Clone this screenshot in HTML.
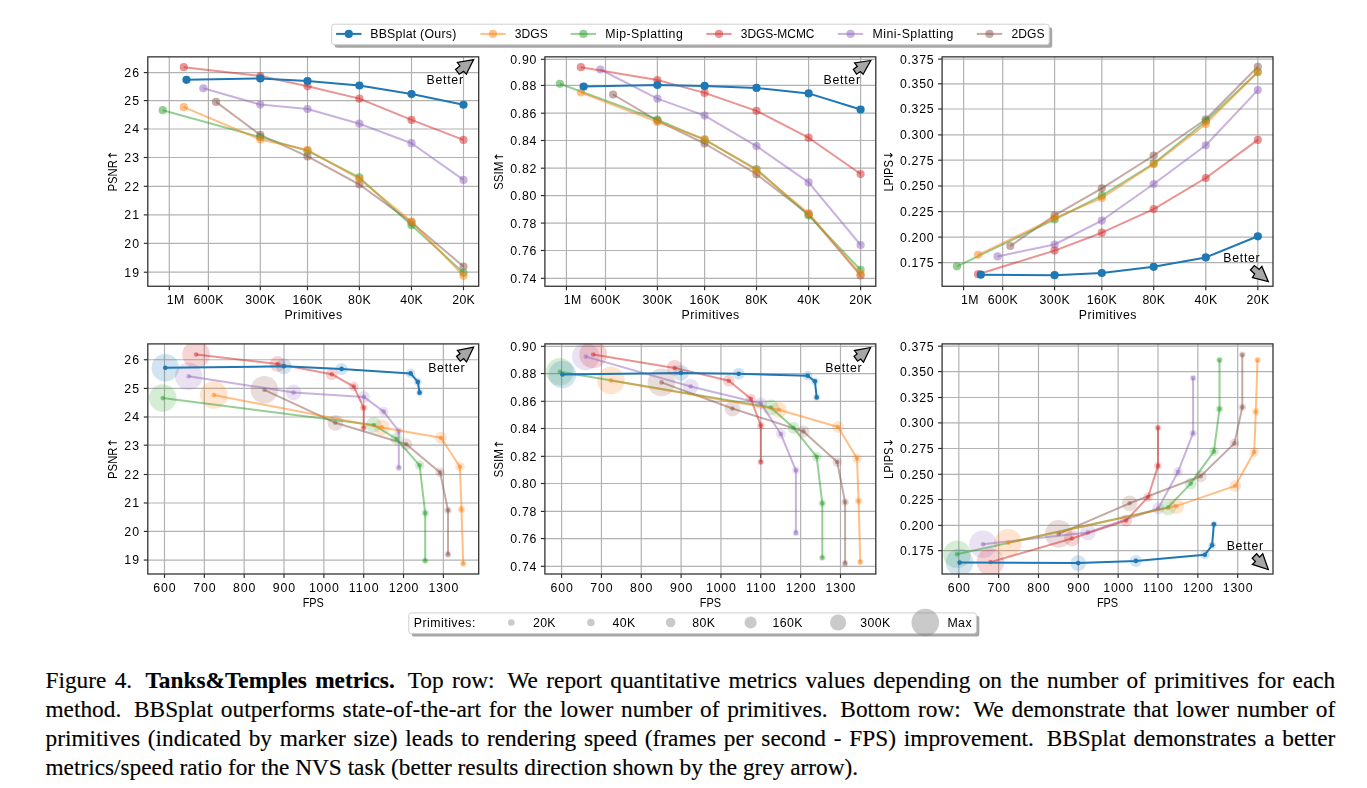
<!DOCTYPE html>
<html lang="en">
<head>
<meta charset="utf-8">
<title>Figure 4 - Tanks&amp;Temples metrics</title>
<style>
html,body{margin:0;padding:0;background:#fff;}
body{width:1367px;height:788px;position:relative;overflow:hidden;font-family:"Liberation Sans",sans-serif;}
svg{will-change:transform;}
svg text{font-family:"Liberation Sans",sans-serif;}
#cap{position:absolute;left:45.5px;top:665.8px;width:1289.8px;-webkit-text-stroke:0.15px #000;font-family:"Liberation Serif",serif;font-size:23.3px;line-height:29px;color:#000;}
#cap .l{height:29px;white-space:nowrap;text-align:justify;text-align-last:justify;overflow:visible;white-space:normal;}
#cap .l.last{text-align:left;text-align-last:left;}
#cap i.s{display:inline-block;width:5px;}
</style>
</head>
<body>
<svg width="1367" height="650" viewBox="0 0 1367 650" font-family='"Liberation Sans", sans-serif' style="position:absolute;left:0;top:0">
<g stroke="#b2b2b2" stroke-width="1.2" fill="none">
<path d="M169.3 56.85V286.25"/>
<path d="M208.4 56.85V286.25"/>
<path d="M260.3 56.85V286.25"/>
<path d="M307.5 56.85V286.25"/>
<path d="M359.4 56.85V286.25"/>
<path d="M411.5 56.85V286.25"/>
<path d="M463.5 56.85V286.25"/>
<path d="M147.8 72.6H478.7"/>
<path d="M147.8 100.6H478.7"/>
<path d="M147.8 129H478.7"/>
<path d="M147.8 157.5H478.7"/>
<path d="M147.8 186.3H478.7"/>
<path d="M147.8 214.9H478.7"/>
<path d="M147.8 243.3H478.7"/>
<path d="M147.8 272.2H478.7"/>
</g>
<g opacity="1" fill="#8c564b" fill-opacity="0.5" stroke-opacity="0.5">
<polyline points="216,101.9 260.3,134.9 307.5,156.4 359.4,184.5 411.5,222.4 463.5,266.5" fill="none" stroke="#8c564b" stroke-width="2" stroke-linejoin="round"/>
<circle cx="216" cy="101.9" r="4.1"/>
<circle cx="260.3" cy="134.9" r="4.1"/>
<circle cx="307.5" cy="156.4" r="4.1"/>
<circle cx="359.4" cy="184.5" r="4.1"/>
<circle cx="411.5" cy="222.4" r="4.1"/>
<circle cx="463.5" cy="266.5" r="4.1"/>
</g>
<g opacity="1" fill="#9467bd" fill-opacity="0.5" stroke-opacity="0.5">
<polyline points="203.3,88.3 260.3,104.6 307.5,109 359.4,123.7 411.5,143.2 463.5,179.9" fill="none" stroke="#9467bd" stroke-width="2" stroke-linejoin="round"/>
<circle cx="203.3" cy="88.3" r="4.1"/>
<circle cx="260.3" cy="104.6" r="4.1"/>
<circle cx="307.5" cy="109" r="4.1"/>
<circle cx="359.4" cy="123.7" r="4.1"/>
<circle cx="411.5" cy="143.2" r="4.1"/>
<circle cx="463.5" cy="179.9" r="4.1"/>
</g>
<g opacity="1" fill="#d62728" fill-opacity="0.5" stroke-opacity="0.5">
<polyline points="183.8,67.15 260.3,76.1 307.5,86.3 359.4,98.65 411.5,119.9 463.5,139.9" fill="none" stroke="#d62728" stroke-width="2" stroke-linejoin="round"/>
<circle cx="183.8" cy="67.15" r="4.1"/>
<circle cx="260.3" cy="76.1" r="4.1"/>
<circle cx="307.5" cy="86.3" r="4.1"/>
<circle cx="359.4" cy="98.65" r="4.1"/>
<circle cx="411.5" cy="119.9" r="4.1"/>
<circle cx="463.5" cy="139.9" r="4.1"/>
</g>
<g opacity="1" fill="#2ca02c" fill-opacity="0.5" stroke-opacity="0.5">
<polyline points="162.7,110.2 260.3,137.1 307.5,150.9 359.4,177.4 411.5,225.2 463.5,272.8" fill="none" stroke="#2ca02c" stroke-width="2" stroke-linejoin="round"/>
<circle cx="162.7" cy="110.2" r="4.1"/>
<circle cx="260.3" cy="137.1" r="4.1"/>
<circle cx="307.5" cy="150.9" r="4.1"/>
<circle cx="359.4" cy="177.4" r="4.1"/>
<circle cx="411.5" cy="225.2" r="4.1"/>
<circle cx="463.5" cy="272.8" r="4.1"/>
</g>
<g opacity="1" fill="#ff7f0e" fill-opacity="0.5" stroke-opacity="0.5">
<polyline points="183.8,107.2 260.3,139.5 307.5,149.8 359.4,178.8 411.5,221.5 463.5,275.8" fill="none" stroke="#ff7f0e" stroke-width="2" stroke-linejoin="round"/>
<circle cx="183.8" cy="107.2" r="4.1"/>
<circle cx="260.3" cy="139.5" r="4.1"/>
<circle cx="307.5" cy="149.8" r="4.1"/>
<circle cx="359.4" cy="178.8" r="4.1"/>
<circle cx="411.5" cy="221.5" r="4.1"/>
<circle cx="463.5" cy="275.8" r="4.1"/>
</g>
<g opacity="1" fill="#1f77b4" fill-opacity="1.0" stroke-opacity="1.0">
<polyline points="186.5,79.85 260.3,78.4 307.5,81 359.4,85.5 411.5,94 463.5,104.75" fill="none" stroke="#1f77b4" stroke-width="2" stroke-linejoin="round"/>
<circle cx="186.5" cy="79.85" r="4.1"/>
<circle cx="260.3" cy="78.4" r="4.1"/>
<circle cx="307.5" cy="81" r="4.1"/>
<circle cx="359.4" cy="85.5" r="4.1"/>
<circle cx="411.5" cy="94" r="4.1"/>
<circle cx="463.5" cy="104.75" r="4.1"/>
</g>
<g stroke="#2a2a2a" stroke-width="1.15" fill="none">
<path d="M169.3 286.25v4"/>
<path d="M208.4 286.25v4"/>
<path d="M260.3 286.25v4"/>
<path d="M307.5 286.25v4"/>
<path d="M359.4 286.25v4"/>
<path d="M411.5 286.25v4"/>
<path d="M463.5 286.25v4"/>
<path d="M147.8 72.6h-4"/>
<path d="M147.8 100.6h-4"/>
<path d="M147.8 129h-4"/>
<path d="M147.8 157.5h-4"/>
<path d="M147.8 186.3h-4"/>
<path d="M147.8 214.9h-4"/>
<path d="M147.8 243.3h-4"/>
<path d="M147.8 272.2h-4"/>
</g>
<rect x="147.8" y="56.85" width="330.9" height="229.4" fill="none" stroke="#333" stroke-width="1.3"/>
<g font-size="12.3" fill="#000">
<g text-anchor="middle">
<text x="175.5" y="303.75" textLength="17.54">1M</text>
<text x="208.4" y="303.75" textLength="30">600K</text>
<text x="260.3" y="303.75" textLength="30">300K</text>
<text x="307.5" y="303.75" textLength="30">160K</text>
<text x="359.4" y="303.75" textLength="22.56">80K</text>
<text x="411.5" y="303.75" textLength="22.56">40K</text>
<text x="463.5" y="303.75" textLength="22.56">20K</text>
<text x="313.25" y="319.25" textLength="57.61">Primitives</text>
</g>
<g text-anchor="end">
<text x="139.2" y="77" textLength="14.89">26</text>
<text x="139.2" y="105" textLength="14.89">25</text>
<text x="139.2" y="133.4" textLength="14.89">24</text>
<text x="139.2" y="161.9" textLength="14.89">23</text>
<text x="139.2" y="190.7" textLength="14.89">22</text>
<text x="139.2" y="219.3" textLength="14.89">21</text>
<text x="139.2" y="247.7" textLength="14.89">20</text>
<text x="139.2" y="276.6" textLength="14.89">19</text>
</g>
<g transform="translate(116.8 170.95) rotate(-90)">
<text x="-20.58" y="0" textLength="31.36" lengthAdjust="spacingAndGlyphs">PSNR</text>
<path transform="translate(10.78 0) scale(0.005713 -0.005713)" d="M813 1500H903L1295 1106L1175 986L943 1220V0H773V1220L539 986L419 1106Z" fill="#000"/>
</g>
</g>
<g stroke="#b2b2b2" stroke-width="1.2" fill="none">
<path d="M566.4 56.85V286.25"/>
<path d="M605.5 56.85V286.25"/>
<path d="M657.4 56.85V286.25"/>
<path d="M704.6 56.85V286.25"/>
<path d="M756.5 56.85V286.25"/>
<path d="M808.6 56.85V286.25"/>
<path d="M860.6 56.85V286.25"/>
<path d="M544.9 59.3H875.8"/>
<path d="M544.9 85.45H875.8"/>
<path d="M544.9 113.2H875.8"/>
<path d="M544.9 140.5H875.8"/>
<path d="M544.9 168.2H875.8"/>
<path d="M544.9 195.6H875.8"/>
<path d="M544.9 223.1H875.8"/>
<path d="M544.9 250.5H875.8"/>
<path d="M544.9 278.35H875.8"/>
</g>
<g opacity="1" fill="#8c564b" fill-opacity="0.5" stroke-opacity="0.5">
<polyline points="613.1,94.5 657.4,120.6 704.6,143.5 756.5,174.2 808.6,214.2 860.6,275.5" fill="none" stroke="#8c564b" stroke-width="2" stroke-linejoin="round"/>
<circle cx="613.1" cy="94.5" r="4.1"/>
<circle cx="657.4" cy="120.6" r="4.1"/>
<circle cx="704.6" cy="143.5" r="4.1"/>
<circle cx="756.5" cy="174.2" r="4.1"/>
<circle cx="808.6" cy="214.2" r="4.1"/>
<circle cx="860.6" cy="275.5" r="4.1"/>
</g>
<g opacity="1" fill="#9467bd" fill-opacity="0.5" stroke-opacity="0.5">
<polyline points="600.4,69.5 657.4,98.65 704.6,115.6 756.5,146.1 808.6,182.4 860.6,245" fill="none" stroke="#9467bd" stroke-width="2" stroke-linejoin="round"/>
<circle cx="600.4" cy="69.5" r="4.1"/>
<circle cx="657.4" cy="98.65" r="4.1"/>
<circle cx="704.6" cy="115.6" r="4.1"/>
<circle cx="756.5" cy="146.1" r="4.1"/>
<circle cx="808.6" cy="182.4" r="4.1"/>
<circle cx="860.6" cy="245" r="4.1"/>
</g>
<g opacity="1" fill="#d62728" fill-opacity="0.5" stroke-opacity="0.5">
<polyline points="580.9,67.15 657.4,80 704.6,92.9 756.5,110.85 808.6,137.7 860.6,174.05" fill="none" stroke="#d62728" stroke-width="2" stroke-linejoin="round"/>
<circle cx="580.9" cy="67.15" r="4.1"/>
<circle cx="657.4" cy="80" r="4.1"/>
<circle cx="704.6" cy="92.9" r="4.1"/>
<circle cx="756.5" cy="110.85" r="4.1"/>
<circle cx="808.6" cy="137.7" r="4.1"/>
<circle cx="860.6" cy="174.05" r="4.1"/>
</g>
<g opacity="1" fill="#2ca02c" fill-opacity="0.5" stroke-opacity="0.5">
<polyline points="559.8,83.8 657.4,119.6 704.6,139.9 756.5,169 808.6,215.4 860.6,269.8" fill="none" stroke="#2ca02c" stroke-width="2" stroke-linejoin="round"/>
<circle cx="559.8" cy="83.8" r="4.1"/>
<circle cx="657.4" cy="119.6" r="4.1"/>
<circle cx="704.6" cy="139.9" r="4.1"/>
<circle cx="756.5" cy="169" r="4.1"/>
<circle cx="808.6" cy="215.4" r="4.1"/>
<circle cx="860.6" cy="269.8" r="4.1"/>
</g>
<g opacity="1" fill="#ff7f0e" fill-opacity="0.5" stroke-opacity="0.5">
<polyline points="580.9,92.5 657.4,121.9 704.6,139.05 756.5,170.4 808.6,213.2 860.6,274.2" fill="none" stroke="#ff7f0e" stroke-width="2" stroke-linejoin="round"/>
<circle cx="580.9" cy="92.5" r="4.1"/>
<circle cx="657.4" cy="121.9" r="4.1"/>
<circle cx="704.6" cy="139.05" r="4.1"/>
<circle cx="756.5" cy="170.4" r="4.1"/>
<circle cx="808.6" cy="213.2" r="4.1"/>
<circle cx="860.6" cy="274.2" r="4.1"/>
</g>
<g opacity="1" fill="#1f77b4" fill-opacity="1.0" stroke-opacity="1.0">
<polyline points="583.6,86.6 657.4,85 704.6,85.95 756.5,87.9 808.6,93.4 860.6,109.5" fill="none" stroke="#1f77b4" stroke-width="2" stroke-linejoin="round"/>
<circle cx="583.6" cy="86.6" r="4.1"/>
<circle cx="657.4" cy="85" r="4.1"/>
<circle cx="704.6" cy="85.95" r="4.1"/>
<circle cx="756.5" cy="87.9" r="4.1"/>
<circle cx="808.6" cy="93.4" r="4.1"/>
<circle cx="860.6" cy="109.5" r="4.1"/>
</g>
<g stroke="#2a2a2a" stroke-width="1.15" fill="none">
<path d="M566.4 286.25v4"/>
<path d="M605.5 286.25v4"/>
<path d="M657.4 286.25v4"/>
<path d="M704.6 286.25v4"/>
<path d="M756.5 286.25v4"/>
<path d="M808.6 286.25v4"/>
<path d="M860.6 286.25v4"/>
<path d="M544.9 59.3h-4"/>
<path d="M544.9 85.45h-4"/>
<path d="M544.9 113.2h-4"/>
<path d="M544.9 140.5h-4"/>
<path d="M544.9 168.2h-4"/>
<path d="M544.9 195.6h-4"/>
<path d="M544.9 223.1h-4"/>
<path d="M544.9 250.5h-4"/>
<path d="M544.9 278.35h-4"/>
</g>
<rect x="544.9" y="56.85" width="330.9" height="229.4" fill="none" stroke="#333" stroke-width="1.3"/>
<g font-size="12.3" fill="#000">
<g text-anchor="middle">
<text x="572.6" y="303.75" textLength="17.54">1M</text>
<text x="605.5" y="303.75" textLength="30">600K</text>
<text x="657.4" y="303.75" textLength="30">300K</text>
<text x="704.6" y="303.75" textLength="30">160K</text>
<text x="756.5" y="303.75" textLength="22.56">80K</text>
<text x="808.6" y="303.75" textLength="22.56">40K</text>
<text x="860.6" y="303.75" textLength="22.56">20K</text>
<text x="710.35" y="319.25" textLength="57.61">Primitives</text>
</g>
<g text-anchor="end">
<text x="536.3" y="63.7" textLength="26.05">0.90</text>
<text x="536.3" y="89.85" textLength="26.05">0.88</text>
<text x="536.3" y="117.6" textLength="26.05">0.86</text>
<text x="536.3" y="144.9" textLength="26.05">0.84</text>
<text x="536.3" y="172.6" textLength="26.05">0.82</text>
<text x="536.3" y="200" textLength="26.05">0.80</text>
<text x="536.3" y="227.5" textLength="26.05">0.78</text>
<text x="536.3" y="254.9" textLength="26.05">0.76</text>
<text x="536.3" y="282.75" textLength="26.05">0.74</text>
</g>
<g transform="translate(503.1 170.95) rotate(-90)">
<text x="-19.1" y="0" textLength="28.4" lengthAdjust="spacingAndGlyphs">SSIM</text>
<path transform="translate(9.3 0) scale(0.005713 -0.005713)" d="M813 1500H903L1295 1106L1175 986L943 1220V0H773V1220L539 986L419 1106Z" fill="#000"/>
</g>
</g>
<g stroke="#b2b2b2" stroke-width="1.2" fill="none">
<path d="M963.6 56.85V286.25"/>
<path d="M1002.7 56.85V286.25"/>
<path d="M1054.6 56.85V286.25"/>
<path d="M1101.8 56.85V286.25"/>
<path d="M1153.7 56.85V286.25"/>
<path d="M1205.8 56.85V286.25"/>
<path d="M1257.8 56.85V286.25"/>
<path d="M942.1 59.1H1273"/>
<path d="M942.1 83.8H1273"/>
<path d="M942.1 109H1273"/>
<path d="M942.1 134.9H1273"/>
<path d="M942.1 160.2H1273"/>
<path d="M942.1 186H1273"/>
<path d="M942.1 211.6H1273"/>
<path d="M942.1 237.1H1273"/>
<path d="M942.1 262.7H1273"/>
</g>
<g opacity="1" fill="#8c564b" fill-opacity="0.5" stroke-opacity="0.5">
<polyline points="1010.3,246 1054.6,215.4 1101.8,188.3 1153.7,155.5 1205.8,119.3 1257.8,66.8" fill="none" stroke="#8c564b" stroke-width="2" stroke-linejoin="round"/>
<circle cx="1010.3" cy="246" r="4.1"/>
<circle cx="1054.6" cy="215.4" r="4.1"/>
<circle cx="1101.8" cy="188.3" r="4.1"/>
<circle cx="1153.7" cy="155.5" r="4.1"/>
<circle cx="1205.8" cy="119.3" r="4.1"/>
<circle cx="1257.8" cy="66.8" r="4.1"/>
</g>
<g opacity="1" fill="#9467bd" fill-opacity="0.5" stroke-opacity="0.5">
<polyline points="997.6,256.4 1054.6,244.5 1101.8,220.55 1153.7,184 1205.8,145.3 1257.8,90.1" fill="none" stroke="#9467bd" stroke-width="2" stroke-linejoin="round"/>
<circle cx="997.6" cy="256.4" r="4.1"/>
<circle cx="1054.6" cy="244.5" r="4.1"/>
<circle cx="1101.8" cy="220.55" r="4.1"/>
<circle cx="1153.7" cy="184" r="4.1"/>
<circle cx="1205.8" cy="145.3" r="4.1"/>
<circle cx="1257.8" cy="90.1" r="4.1"/>
</g>
<g opacity="1" fill="#d62728" fill-opacity="0.5" stroke-opacity="0.5">
<polyline points="978.1,274.2 1054.6,250.6 1101.8,232.7 1153.7,209.1 1205.8,178 1257.8,139.9" fill="none" stroke="#d62728" stroke-width="2" stroke-linejoin="round"/>
<circle cx="978.1" cy="274.2" r="4.1"/>
<circle cx="1054.6" cy="250.6" r="4.1"/>
<circle cx="1101.8" cy="232.7" r="4.1"/>
<circle cx="1153.7" cy="209.1" r="4.1"/>
<circle cx="1205.8" cy="178" r="4.1"/>
<circle cx="1257.8" cy="139.9" r="4.1"/>
</g>
<g opacity="1" fill="#2ca02c" fill-opacity="0.5" stroke-opacity="0.5">
<polyline points="957,266.3 1054.6,219.5 1101.8,195.7 1153.7,163.5 1205.8,121.2 1257.8,72.1" fill="none" stroke="#2ca02c" stroke-width="2" stroke-linejoin="round"/>
<circle cx="957" cy="266.3" r="4.1"/>
<circle cx="1054.6" cy="219.5" r="4.1"/>
<circle cx="1101.8" cy="195.7" r="4.1"/>
<circle cx="1153.7" cy="163.5" r="4.1"/>
<circle cx="1205.8" cy="121.2" r="4.1"/>
<circle cx="1257.8" cy="72.1" r="4.1"/>
</g>
<g opacity="1" fill="#ff7f0e" fill-opacity="0.5" stroke-opacity="0.5">
<polyline points="978.1,254.8 1054.6,218.2 1101.8,198 1153.7,164.2 1205.8,123.9 1257.8,72.1" fill="none" stroke="#ff7f0e" stroke-width="2" stroke-linejoin="round"/>
<circle cx="978.1" cy="254.8" r="4.1"/>
<circle cx="1054.6" cy="218.2" r="4.1"/>
<circle cx="1101.8" cy="198" r="4.1"/>
<circle cx="1153.7" cy="164.2" r="4.1"/>
<circle cx="1205.8" cy="123.9" r="4.1"/>
<circle cx="1257.8" cy="72.1" r="4.1"/>
</g>
<g opacity="1" fill="#1f77b4" fill-opacity="1.0" stroke-opacity="1.0">
<polyline points="980.8,274.7 1054.6,275.2 1101.8,273 1153.7,266.8 1205.8,257.4 1257.8,236.3" fill="none" stroke="#1f77b4" stroke-width="2" stroke-linejoin="round"/>
<circle cx="980.8" cy="274.7" r="4.1"/>
<circle cx="1054.6" cy="275.2" r="4.1"/>
<circle cx="1101.8" cy="273" r="4.1"/>
<circle cx="1153.7" cy="266.8" r="4.1"/>
<circle cx="1205.8" cy="257.4" r="4.1"/>
<circle cx="1257.8" cy="236.3" r="4.1"/>
</g>
<g stroke="#2a2a2a" stroke-width="1.15" fill="none">
<path d="M963.6 286.25v4"/>
<path d="M1002.7 286.25v4"/>
<path d="M1054.6 286.25v4"/>
<path d="M1101.8 286.25v4"/>
<path d="M1153.7 286.25v4"/>
<path d="M1205.8 286.25v4"/>
<path d="M1257.8 286.25v4"/>
<path d="M942.1 59.1h-4"/>
<path d="M942.1 83.8h-4"/>
<path d="M942.1 109h-4"/>
<path d="M942.1 134.9h-4"/>
<path d="M942.1 160.2h-4"/>
<path d="M942.1 186h-4"/>
<path d="M942.1 211.6h-4"/>
<path d="M942.1 237.1h-4"/>
<path d="M942.1 262.7h-4"/>
</g>
<rect x="942.1" y="56.85" width="330.9" height="229.4" fill="none" stroke="#333" stroke-width="1.3"/>
<g font-size="12.3" fill="#000">
<g text-anchor="middle">
<text x="969.8" y="303.75" textLength="17.54">1M</text>
<text x="1002.7" y="303.75" textLength="30">600K</text>
<text x="1054.6" y="303.75" textLength="30">300K</text>
<text x="1101.8" y="303.75" textLength="30">160K</text>
<text x="1153.7" y="303.75" textLength="22.56">80K</text>
<text x="1205.8" y="303.75" textLength="22.56">40K</text>
<text x="1257.8" y="303.75" textLength="22.56">20K</text>
<text x="1107.55" y="319.25" textLength="57.61">Primitives</text>
</g>
<g text-anchor="end">
<text x="933.5" y="63.5" textLength="33.49">0.375</text>
<text x="933.5" y="88.2" textLength="33.49">0.350</text>
<text x="933.5" y="113.4" textLength="33.49">0.325</text>
<text x="933.5" y="139.3" textLength="33.49">0.300</text>
<text x="933.5" y="164.6" textLength="33.49">0.275</text>
<text x="933.5" y="190.4" textLength="33.49">0.250</text>
<text x="933.5" y="216" textLength="33.49">0.225</text>
<text x="933.5" y="241.5" textLength="33.49">0.200</text>
<text x="933.5" y="267.1" textLength="33.49">0.175</text>
</g>
<g transform="translate(892.6 170.95) rotate(-90)">
<text x="-20.65" y="0" textLength="31.51" lengthAdjust="spacingAndGlyphs">LPIPS</text>
<path transform="translate(10.85 0) scale(0.005713 -0.005713)" d="M903 -7H813L419 387L539 507L773 273V1493H943V273L1175 507L1295 387Z" fill="#000"/>
</g>
</g>
<g stroke="#b2b2b2" stroke-width="1.2" fill="none">
<path d="M164.5 343.9V574"/>
<path d="M204.34 343.9V574"/>
<path d="M244.18 343.9V574"/>
<path d="M284.02 343.9V574"/>
<path d="M323.86 343.9V574"/>
<path d="M363.7 343.9V574"/>
<path d="M403.54 343.9V574"/>
<path d="M443.38 343.9V574"/>
<path d="M147.8 359.75H478.7"/>
<path d="M147.8 388.4H478.7"/>
<path d="M147.8 417H478.7"/>
<path d="M147.8 445.2H478.7"/>
<path d="M147.8 474.5H478.7"/>
<path d="M147.8 503H478.7"/>
<path d="M147.8 531.4H478.7"/>
<path d="M147.8 560.05H478.7"/>
</g>
<clipPath id="clip0"><rect x="147.8" y="343.9" width="330.9" height="230.1"/></clipPath>
<g clip-path="url(#clip0)">
<g fill="#8c564b" fill-opacity="0.2">
<circle cx="264.4" cy="389.8" r="13.8"/>
<circle cx="335.35" cy="422.8" r="7.9"/>
<circle cx="406.3" cy="444.3" r="6.0"/>
<circle cx="440.1" cy="472.4" r="4.8"/>
<circle cx="448" cy="510.3" r="3.8"/>
<circle cx="448" cy="554.4" r="3.3"/>
</g>
<g fill="#9467bd" fill-opacity="0.2">
<circle cx="188.7" cy="376.2" r="13.8"/>
<circle cx="293.6" cy="392.5" r="7.9"/>
<circle cx="363.9" cy="396.9" r="6.0"/>
<circle cx="383.7" cy="411.6" r="4.8"/>
<circle cx="398.8" cy="431.1" r="3.8"/>
<circle cx="398.8" cy="467.8" r="3.3"/>
</g>
<g fill="#d62728" fill-opacity="0.2">
<circle cx="196.1" cy="354.55" r="13.8"/>
<circle cx="277.6" cy="364" r="7.9"/>
<circle cx="331.7" cy="374.2" r="6.0"/>
<circle cx="353.8" cy="386.55" r="4.8"/>
<circle cx="363.7" cy="407.8" r="3.8"/>
<circle cx="363.7" cy="427.8" r="3.3"/>
</g>
<g fill="#2ca02c" fill-opacity="0.2">
<circle cx="162.7" cy="398.1" r="13.8"/>
<circle cx="373.8" cy="425" r="7.9"/>
<circle cx="396.4" cy="438.8" r="6.0"/>
<circle cx="419.6" cy="465.3" r="4.8"/>
<circle cx="425.2" cy="513.1" r="3.8"/>
<circle cx="425.2" cy="560.7" r="3.3"/>
</g>
<g fill="#ff7f0e" fill-opacity="0.2">
<circle cx="213.8" cy="395.1" r="13.8"/>
<circle cx="381.9" cy="427.4" r="7.9"/>
<circle cx="440.9" cy="437.7" r="6.0"/>
<circle cx="459.9" cy="466.7" r="4.8"/>
<circle cx="461.5" cy="509.4" r="3.8"/>
<circle cx="463.2" cy="563.7" r="3.3"/>
</g>
<g fill="#1f77b4" fill-opacity="0.2">
<circle cx="165.3" cy="367.75" r="13.8"/>
<circle cx="283.9" cy="366.3" r="7.9"/>
<circle cx="341.6" cy="368.9" r="6.0"/>
<circle cx="410.6" cy="373.4" r="4.8"/>
<circle cx="417.8" cy="381.9" r="3.8"/>
<circle cx="419.6" cy="392.65" r="3.3"/>
</g>
<g fill="#8c564b" fill-opacity="0.5" stroke-opacity="0.5">
<polyline points="264.4,389.8 335.35,422.8 406.3,444.3 440.1,472.4 448,510.3 448,554.4" fill="none" stroke="#8c564b" stroke-width="2" stroke-linejoin="round"/>
<circle cx="264.4" cy="389.8" r="2.3"/>
<circle cx="335.35" cy="422.8" r="2.3"/>
<circle cx="406.3" cy="444.3" r="2.3"/>
<circle cx="440.1" cy="472.4" r="2.3"/>
<circle cx="448" cy="510.3" r="2.3"/>
<circle cx="448" cy="554.4" r="2.3"/>
</g>
<g fill="#9467bd" fill-opacity="0.5" stroke-opacity="0.5">
<polyline points="188.7,376.2 293.6,392.5 363.9,396.9 383.7,411.6 398.8,431.1 398.8,467.8" fill="none" stroke="#9467bd" stroke-width="2" stroke-linejoin="round"/>
<circle cx="188.7" cy="376.2" r="2.3"/>
<circle cx="293.6" cy="392.5" r="2.3"/>
<circle cx="363.9" cy="396.9" r="2.3"/>
<circle cx="383.7" cy="411.6" r="2.3"/>
<circle cx="398.8" cy="431.1" r="2.3"/>
<circle cx="398.8" cy="467.8" r="2.3"/>
</g>
<g fill="#d62728" fill-opacity="0.5" stroke-opacity="0.5">
<polyline points="196.1,354.55 277.6,364 331.7,374.2 353.8,386.55 363.7,407.8 363.7,427.8" fill="none" stroke="#d62728" stroke-width="2" stroke-linejoin="round"/>
<circle cx="196.1" cy="354.55" r="2.3"/>
<circle cx="277.6" cy="364" r="2.3"/>
<circle cx="331.7" cy="374.2" r="2.3"/>
<circle cx="353.8" cy="386.55" r="2.3"/>
<circle cx="363.7" cy="407.8" r="2.3"/>
<circle cx="363.7" cy="427.8" r="2.3"/>
</g>
<g fill="#2ca02c" fill-opacity="0.5" stroke-opacity="0.5">
<polyline points="162.7,398.1 373.8,425 396.4,438.8 419.6,465.3 425.2,513.1 425.2,560.7" fill="none" stroke="#2ca02c" stroke-width="2" stroke-linejoin="round"/>
<circle cx="162.7" cy="398.1" r="2.3"/>
<circle cx="373.8" cy="425" r="2.3"/>
<circle cx="396.4" cy="438.8" r="2.3"/>
<circle cx="419.6" cy="465.3" r="2.3"/>
<circle cx="425.2" cy="513.1" r="2.3"/>
<circle cx="425.2" cy="560.7" r="2.3"/>
</g>
<g fill="#ff7f0e" fill-opacity="0.5" stroke-opacity="0.5">
<polyline points="213.8,395.1 381.9,427.4 440.9,437.7 459.9,466.7 461.5,509.4 463.2,563.7" fill="none" stroke="#ff7f0e" stroke-width="2" stroke-linejoin="round"/>
<circle cx="213.8" cy="395.1" r="2.3"/>
<circle cx="381.9" cy="427.4" r="2.3"/>
<circle cx="440.9" cy="437.7" r="2.3"/>
<circle cx="459.9" cy="466.7" r="2.3"/>
<circle cx="461.5" cy="509.4" r="2.3"/>
<circle cx="463.2" cy="563.7" r="2.3"/>
</g>
<g fill="#1f77b4" fill-opacity="1.0" stroke-opacity="1.0">
<polyline points="165.3,367.75 283.9,366.3 341.6,368.9 410.6,373.4 417.8,381.9 419.6,392.65" fill="none" stroke="#1f77b4" stroke-width="2" stroke-linejoin="round"/>
<circle cx="165.3" cy="367.75" r="2.3"/>
<circle cx="283.9" cy="366.3" r="2.3"/>
<circle cx="341.6" cy="368.9" r="2.3"/>
<circle cx="410.6" cy="373.4" r="2.3"/>
<circle cx="417.8" cy="381.9" r="2.3"/>
<circle cx="419.6" cy="392.65" r="2.3"/>
</g>
</g>
<g stroke="#2a2a2a" stroke-width="1.15" fill="none">
<path d="M164.5 574v4"/>
<path d="M204.34 574v4"/>
<path d="M244.18 574v4"/>
<path d="M284.02 574v4"/>
<path d="M323.86 574v4"/>
<path d="M363.7 574v4"/>
<path d="M403.54 574v4"/>
<path d="M443.38 574v4"/>
<path d="M147.8 359.75h-4"/>
<path d="M147.8 388.4h-4"/>
<path d="M147.8 417h-4"/>
<path d="M147.8 445.2h-4"/>
<path d="M147.8 474.5h-4"/>
<path d="M147.8 503h-4"/>
<path d="M147.8 531.4h-4"/>
<path d="M147.8 560.05h-4"/>
</g>
<rect x="147.8" y="343.9" width="330.9" height="230.1" fill="none" stroke="#333" stroke-width="1.3"/>
<g font-size="12.3" fill="#000">
<g text-anchor="middle">
<text x="164.5" y="591.6" textLength="22.33">600</text>
<text x="204.34" y="591.6" textLength="22.33">700</text>
<text x="244.18" y="591.6" textLength="22.33">800</text>
<text x="284.02" y="591.6" textLength="22.33">900</text>
<text x="323.86" y="591.6" textLength="29.78">1000</text>
<text x="363.7" y="591.6" textLength="29.78">1100</text>
<text x="403.54" y="591.6" textLength="29.78">1200</text>
<text x="443.38" y="591.6" textLength="29.78">1300</text>
<text x="313.25" y="607.1" textLength="21.21" lengthAdjust="spacingAndGlyphs">FPS</text>
</g>
<g text-anchor="end">
<text x="139.2" y="364.15" textLength="14.89">26</text>
<text x="139.2" y="392.8" textLength="14.89">25</text>
<text x="139.2" y="421.4" textLength="14.89">24</text>
<text x="139.2" y="449.6" textLength="14.89">23</text>
<text x="139.2" y="478.9" textLength="14.89">22</text>
<text x="139.2" y="507.4" textLength="14.89">21</text>
<text x="139.2" y="535.8" textLength="14.89">20</text>
<text x="139.2" y="564.45" textLength="14.89">19</text>
</g>
<g transform="translate(116.8 458.35) rotate(-90)">
<text x="-20.58" y="0" textLength="31.36" lengthAdjust="spacingAndGlyphs">PSNR</text>
<path transform="translate(10.78 0) scale(0.005713 -0.005713)" d="M813 1500H903L1295 1106L1175 986L943 1220V0H773V1220L539 986L419 1106Z" fill="#000"/>
</g>
</g>
<g stroke="#b2b2b2" stroke-width="1.2" fill="none">
<path d="M561.6 343.9V574"/>
<path d="M601.44 343.9V574"/>
<path d="M641.28 343.9V574"/>
<path d="M681.12 343.9V574"/>
<path d="M720.96 343.9V574"/>
<path d="M760.8 343.9V574"/>
<path d="M800.64 343.9V574"/>
<path d="M840.48 343.9V574"/>
<path d="M544.9 346.35H875.8"/>
<path d="M544.9 373.55H875.8"/>
<path d="M544.9 401.3H875.8"/>
<path d="M544.9 428.5H875.8"/>
<path d="M544.9 456.35H875.8"/>
<path d="M544.9 483.5H875.8"/>
<path d="M544.9 511.4H875.8"/>
<path d="M544.9 538.6H875.8"/>
<path d="M544.9 566.3H875.8"/>
</g>
<clipPath id="clip1"><rect x="544.9" y="343.9" width="330.9" height="230.1"/></clipPath>
<g clip-path="url(#clip1)">
<g fill="#8c564b" fill-opacity="0.2">
<circle cx="661.5" cy="382.4" r="13.8"/>
<circle cx="732.45" cy="408.5" r="7.9"/>
<circle cx="803.4" cy="431.4" r="6.0"/>
<circle cx="837.2" cy="462.1" r="4.8"/>
<circle cx="845.1" cy="502.1" r="3.8"/>
<circle cx="845.1" cy="563.4" r="3.3"/>
</g>
<g fill="#9467bd" fill-opacity="0.2">
<circle cx="585.8" cy="356.6" r="13.8"/>
<circle cx="690.7" cy="386.55" r="7.9"/>
<circle cx="761" cy="403.5" r="6.0"/>
<circle cx="780.8" cy="434" r="4.8"/>
<circle cx="795.9" cy="470.3" r="3.8"/>
<circle cx="795.9" cy="532.9" r="3.3"/>
</g>
<g fill="#d62728" fill-opacity="0.2">
<circle cx="593.2" cy="354.45" r="13.8"/>
<circle cx="674.7" cy="367.9" r="7.9"/>
<circle cx="728.8" cy="380.8" r="6.0"/>
<circle cx="750.9" cy="398.75" r="4.8"/>
<circle cx="760.8" cy="425.6" r="3.8"/>
<circle cx="760.8" cy="461.95" r="3.3"/>
</g>
<g fill="#2ca02c" fill-opacity="0.2">
<circle cx="559.8" cy="371.7" r="13.8"/>
<circle cx="770.9" cy="407.5" r="7.9"/>
<circle cx="793.5" cy="427.8" r="6.0"/>
<circle cx="816.7" cy="456.9" r="4.8"/>
<circle cx="822.3" cy="503.3" r="3.8"/>
<circle cx="822.3" cy="557.7" r="3.3"/>
</g>
<g fill="#ff7f0e" fill-opacity="0.2">
<circle cx="610.9" cy="380.4" r="13.8"/>
<circle cx="779" cy="409.8" r="7.9"/>
<circle cx="838" cy="426.95" r="6.0"/>
<circle cx="857" cy="458.3" r="4.8"/>
<circle cx="858.6" cy="501.1" r="3.8"/>
<circle cx="860.3" cy="562.1" r="3.3"/>
</g>
<g fill="#1f77b4" fill-opacity="0.2">
<circle cx="562.4" cy="374.5" r="13.8"/>
<circle cx="681" cy="372.9" r="7.9"/>
<circle cx="738.7" cy="373.85" r="6.0"/>
<circle cx="807.7" cy="375.8" r="4.8"/>
<circle cx="814.9" cy="381.3" r="3.8"/>
<circle cx="816.7" cy="397.4" r="3.3"/>
</g>
<g fill="#8c564b" fill-opacity="0.5" stroke-opacity="0.5">
<polyline points="661.5,382.4 732.45,408.5 803.4,431.4 837.2,462.1 845.1,502.1 845.1,563.4" fill="none" stroke="#8c564b" stroke-width="2" stroke-linejoin="round"/>
<circle cx="661.5" cy="382.4" r="2.3"/>
<circle cx="732.45" cy="408.5" r="2.3"/>
<circle cx="803.4" cy="431.4" r="2.3"/>
<circle cx="837.2" cy="462.1" r="2.3"/>
<circle cx="845.1" cy="502.1" r="2.3"/>
<circle cx="845.1" cy="563.4" r="2.3"/>
</g>
<g fill="#9467bd" fill-opacity="0.5" stroke-opacity="0.5">
<polyline points="585.8,356.6 690.7,386.55 761,403.5 780.8,434 795.9,470.3 795.9,532.9" fill="none" stroke="#9467bd" stroke-width="2" stroke-linejoin="round"/>
<circle cx="585.8" cy="356.6" r="2.3"/>
<circle cx="690.7" cy="386.55" r="2.3"/>
<circle cx="761" cy="403.5" r="2.3"/>
<circle cx="780.8" cy="434" r="2.3"/>
<circle cx="795.9" cy="470.3" r="2.3"/>
<circle cx="795.9" cy="532.9" r="2.3"/>
</g>
<g fill="#d62728" fill-opacity="0.5" stroke-opacity="0.5">
<polyline points="593.2,354.45 674.7,367.9 728.8,380.8 750.9,398.75 760.8,425.6 760.8,461.95" fill="none" stroke="#d62728" stroke-width="2" stroke-linejoin="round"/>
<circle cx="593.2" cy="354.45" r="2.3"/>
<circle cx="674.7" cy="367.9" r="2.3"/>
<circle cx="728.8" cy="380.8" r="2.3"/>
<circle cx="750.9" cy="398.75" r="2.3"/>
<circle cx="760.8" cy="425.6" r="2.3"/>
<circle cx="760.8" cy="461.95" r="2.3"/>
</g>
<g fill="#2ca02c" fill-opacity="0.5" stroke-opacity="0.5">
<polyline points="559.8,371.7 770.9,407.5 793.5,427.8 816.7,456.9 822.3,503.3 822.3,557.7" fill="none" stroke="#2ca02c" stroke-width="2" stroke-linejoin="round"/>
<circle cx="559.8" cy="371.7" r="2.3"/>
<circle cx="770.9" cy="407.5" r="2.3"/>
<circle cx="793.5" cy="427.8" r="2.3"/>
<circle cx="816.7" cy="456.9" r="2.3"/>
<circle cx="822.3" cy="503.3" r="2.3"/>
<circle cx="822.3" cy="557.7" r="2.3"/>
</g>
<g fill="#ff7f0e" fill-opacity="0.5" stroke-opacity="0.5">
<polyline points="610.9,380.4 779,409.8 838,426.95 857,458.3 858.6,501.1 860.3,562.1" fill="none" stroke="#ff7f0e" stroke-width="2" stroke-linejoin="round"/>
<circle cx="610.9" cy="380.4" r="2.3"/>
<circle cx="779" cy="409.8" r="2.3"/>
<circle cx="838" cy="426.95" r="2.3"/>
<circle cx="857" cy="458.3" r="2.3"/>
<circle cx="858.6" cy="501.1" r="2.3"/>
<circle cx="860.3" cy="562.1" r="2.3"/>
</g>
<g fill="#1f77b4" fill-opacity="1.0" stroke-opacity="1.0">
<polyline points="562.4,374.5 681,372.9 738.7,373.85 807.7,375.8 814.9,381.3 816.7,397.4" fill="none" stroke="#1f77b4" stroke-width="2" stroke-linejoin="round"/>
<circle cx="562.4" cy="374.5" r="2.3"/>
<circle cx="681" cy="372.9" r="2.3"/>
<circle cx="738.7" cy="373.85" r="2.3"/>
<circle cx="807.7" cy="375.8" r="2.3"/>
<circle cx="814.9" cy="381.3" r="2.3"/>
<circle cx="816.7" cy="397.4" r="2.3"/>
</g>
</g>
<g stroke="#2a2a2a" stroke-width="1.15" fill="none">
<path d="M561.6 574v4"/>
<path d="M601.44 574v4"/>
<path d="M641.28 574v4"/>
<path d="M681.12 574v4"/>
<path d="M720.96 574v4"/>
<path d="M760.8 574v4"/>
<path d="M800.64 574v4"/>
<path d="M840.48 574v4"/>
<path d="M544.9 346.35h-4"/>
<path d="M544.9 373.55h-4"/>
<path d="M544.9 401.3h-4"/>
<path d="M544.9 428.5h-4"/>
<path d="M544.9 456.35h-4"/>
<path d="M544.9 483.5h-4"/>
<path d="M544.9 511.4h-4"/>
<path d="M544.9 538.6h-4"/>
<path d="M544.9 566.3h-4"/>
</g>
<rect x="544.9" y="343.9" width="330.9" height="230.1" fill="none" stroke="#333" stroke-width="1.3"/>
<g font-size="12.3" fill="#000">
<g text-anchor="middle">
<text x="561.6" y="591.6" textLength="22.33">600</text>
<text x="601.44" y="591.6" textLength="22.33">700</text>
<text x="641.28" y="591.6" textLength="22.33">800</text>
<text x="681.12" y="591.6" textLength="22.33">900</text>
<text x="720.96" y="591.6" textLength="29.78">1000</text>
<text x="760.8" y="591.6" textLength="29.78">1100</text>
<text x="800.64" y="591.6" textLength="29.78">1200</text>
<text x="840.48" y="591.6" textLength="29.78">1300</text>
<text x="710.35" y="607.1" textLength="21.21" lengthAdjust="spacingAndGlyphs">FPS</text>
</g>
<g text-anchor="end">
<text x="536.3" y="350.75" textLength="26.05">0.90</text>
<text x="536.3" y="377.95" textLength="26.05">0.88</text>
<text x="536.3" y="405.7" textLength="26.05">0.86</text>
<text x="536.3" y="432.9" textLength="26.05">0.84</text>
<text x="536.3" y="460.75" textLength="26.05">0.82</text>
<text x="536.3" y="487.9" textLength="26.05">0.80</text>
<text x="536.3" y="515.8" textLength="26.05">0.78</text>
<text x="536.3" y="543" textLength="26.05">0.76</text>
<text x="536.3" y="570.7" textLength="26.05">0.74</text>
</g>
<g transform="translate(503.1 458.35) rotate(-90)">
<text x="-19.1" y="0" textLength="28.4" lengthAdjust="spacingAndGlyphs">SSIM</text>
<path transform="translate(9.3 0) scale(0.005713 -0.005713)" d="M813 1500H903L1295 1106L1175 986L943 1220V0H773V1220L539 986L419 1106Z" fill="#000"/>
</g>
</g>
<g stroke="#b2b2b2" stroke-width="1.2" fill="none">
<path d="M958.8 343.9V574"/>
<path d="M998.64 343.9V574"/>
<path d="M1038.48 343.9V574"/>
<path d="M1078.32 343.9V574"/>
<path d="M1118.16 343.9V574"/>
<path d="M1158 343.9V574"/>
<path d="M1197.84 343.9V574"/>
<path d="M1237.68 343.9V574"/>
<path d="M942.1 346.2H1273"/>
<path d="M942.1 371.6H1273"/>
<path d="M942.1 397.5H1273"/>
<path d="M942.1 422.9H1273"/>
<path d="M942.1 448.5H1273"/>
<path d="M942.1 474.3H1273"/>
<path d="M942.1 499.5H1273"/>
<path d="M942.1 525.4H1273"/>
<path d="M942.1 550.65H1273"/>
</g>
<clipPath id="clip2"><rect x="942.1" y="343.9" width="330.9" height="230.1"/></clipPath>
<g clip-path="url(#clip2)">
<g fill="#8c564b" fill-opacity="0.2">
<circle cx="1058.7" cy="533.9" r="13.8"/>
<circle cx="1129.65" cy="503.3" r="7.9"/>
<circle cx="1200.6" cy="476.2" r="6.0"/>
<circle cx="1234.4" cy="443.4" r="4.8"/>
<circle cx="1242.3" cy="407.2" r="3.8"/>
<circle cx="1242.3" cy="354.7" r="3.3"/>
</g>
<g fill="#9467bd" fill-opacity="0.2">
<circle cx="983" cy="544.3" r="13.8"/>
<circle cx="1087.9" cy="532.4" r="7.9"/>
<circle cx="1158.2" cy="508.45" r="6.0"/>
<circle cx="1178" cy="471.9" r="4.8"/>
<circle cx="1193.1" cy="433.2" r="3.8"/>
<circle cx="1193.1" cy="378" r="3.3"/>
</g>
<g fill="#d62728" fill-opacity="0.2">
<circle cx="990.4" cy="562.1" r="13.8"/>
<circle cx="1071.9" cy="538.5" r="7.9"/>
<circle cx="1126" cy="520.6" r="6.0"/>
<circle cx="1148.1" cy="497" r="4.8"/>
<circle cx="1158" cy="465.9" r="3.8"/>
<circle cx="1158" cy="427.8" r="3.3"/>
</g>
<g fill="#2ca02c" fill-opacity="0.2">
<circle cx="957" cy="554.2" r="13.8"/>
<circle cx="1168.1" cy="507.4" r="7.9"/>
<circle cx="1190.7" cy="483.6" r="6.0"/>
<circle cx="1213.9" cy="451.4" r="4.8"/>
<circle cx="1219.5" cy="409.1" r="3.8"/>
<circle cx="1219.5" cy="360" r="3.3"/>
</g>
<g fill="#ff7f0e" fill-opacity="0.2">
<circle cx="1008.1" cy="542.7" r="13.8"/>
<circle cx="1176.2" cy="506.1" r="7.9"/>
<circle cx="1235.2" cy="485.9" r="6.0"/>
<circle cx="1254.2" cy="452.1" r="4.8"/>
<circle cx="1255.8" cy="411.8" r="3.8"/>
<circle cx="1257.5" cy="360" r="3.3"/>
</g>
<g fill="#1f77b4" fill-opacity="0.2">
<circle cx="959.6" cy="562.6" r="13.8"/>
<circle cx="1078.2" cy="563.1" r="7.9"/>
<circle cx="1135.9" cy="560.9" r="6.0"/>
<circle cx="1204.9" cy="554.7" r="4.8"/>
<circle cx="1212.1" cy="545.3" r="3.8"/>
<circle cx="1213.9" cy="524.2" r="3.3"/>
</g>
<g fill="#8c564b" fill-opacity="0.5" stroke-opacity="0.5">
<polyline points="1058.7,533.9 1129.65,503.3 1200.6,476.2 1234.4,443.4 1242.3,407.2 1242.3,354.7" fill="none" stroke="#8c564b" stroke-width="2" stroke-linejoin="round"/>
<circle cx="1058.7" cy="533.9" r="2.3"/>
<circle cx="1129.65" cy="503.3" r="2.3"/>
<circle cx="1200.6" cy="476.2" r="2.3"/>
<circle cx="1234.4" cy="443.4" r="2.3"/>
<circle cx="1242.3" cy="407.2" r="2.3"/>
<circle cx="1242.3" cy="354.7" r="2.3"/>
</g>
<g fill="#9467bd" fill-opacity="0.5" stroke-opacity="0.5">
<polyline points="983,544.3 1087.9,532.4 1158.2,508.45 1178,471.9 1193.1,433.2 1193.1,378" fill="none" stroke="#9467bd" stroke-width="2" stroke-linejoin="round"/>
<circle cx="983" cy="544.3" r="2.3"/>
<circle cx="1087.9" cy="532.4" r="2.3"/>
<circle cx="1158.2" cy="508.45" r="2.3"/>
<circle cx="1178" cy="471.9" r="2.3"/>
<circle cx="1193.1" cy="433.2" r="2.3"/>
<circle cx="1193.1" cy="378" r="2.3"/>
</g>
<g fill="#d62728" fill-opacity="0.5" stroke-opacity="0.5">
<polyline points="990.4,562.1 1071.9,538.5 1126,520.6 1148.1,497 1158,465.9 1158,427.8" fill="none" stroke="#d62728" stroke-width="2" stroke-linejoin="round"/>
<circle cx="990.4" cy="562.1" r="2.3"/>
<circle cx="1071.9" cy="538.5" r="2.3"/>
<circle cx="1126" cy="520.6" r="2.3"/>
<circle cx="1148.1" cy="497" r="2.3"/>
<circle cx="1158" cy="465.9" r="2.3"/>
<circle cx="1158" cy="427.8" r="2.3"/>
</g>
<g fill="#2ca02c" fill-opacity="0.5" stroke-opacity="0.5">
<polyline points="957,554.2 1168.1,507.4 1190.7,483.6 1213.9,451.4 1219.5,409.1 1219.5,360" fill="none" stroke="#2ca02c" stroke-width="2" stroke-linejoin="round"/>
<circle cx="957" cy="554.2" r="2.3"/>
<circle cx="1168.1" cy="507.4" r="2.3"/>
<circle cx="1190.7" cy="483.6" r="2.3"/>
<circle cx="1213.9" cy="451.4" r="2.3"/>
<circle cx="1219.5" cy="409.1" r="2.3"/>
<circle cx="1219.5" cy="360" r="2.3"/>
</g>
<g fill="#ff7f0e" fill-opacity="0.5" stroke-opacity="0.5">
<polyline points="1008.1,542.7 1176.2,506.1 1235.2,485.9 1254.2,452.1 1255.8,411.8 1257.5,360" fill="none" stroke="#ff7f0e" stroke-width="2" stroke-linejoin="round"/>
<circle cx="1008.1" cy="542.7" r="2.3"/>
<circle cx="1176.2" cy="506.1" r="2.3"/>
<circle cx="1235.2" cy="485.9" r="2.3"/>
<circle cx="1254.2" cy="452.1" r="2.3"/>
<circle cx="1255.8" cy="411.8" r="2.3"/>
<circle cx="1257.5" cy="360" r="2.3"/>
</g>
<g fill="#1f77b4" fill-opacity="1.0" stroke-opacity="1.0">
<polyline points="959.6,562.6 1078.2,563.1 1135.9,560.9 1204.9,554.7 1212.1,545.3 1213.9,524.2" fill="none" stroke="#1f77b4" stroke-width="2" stroke-linejoin="round"/>
<circle cx="959.6" cy="562.6" r="2.3"/>
<circle cx="1078.2" cy="563.1" r="2.3"/>
<circle cx="1135.9" cy="560.9" r="2.3"/>
<circle cx="1204.9" cy="554.7" r="2.3"/>
<circle cx="1212.1" cy="545.3" r="2.3"/>
<circle cx="1213.9" cy="524.2" r="2.3"/>
</g>
</g>
<g stroke="#2a2a2a" stroke-width="1.15" fill="none">
<path d="M958.8 574v4"/>
<path d="M998.64 574v4"/>
<path d="M1038.48 574v4"/>
<path d="M1078.32 574v4"/>
<path d="M1118.16 574v4"/>
<path d="M1158 574v4"/>
<path d="M1197.84 574v4"/>
<path d="M1237.68 574v4"/>
<path d="M942.1 346.2h-4"/>
<path d="M942.1 371.6h-4"/>
<path d="M942.1 397.5h-4"/>
<path d="M942.1 422.9h-4"/>
<path d="M942.1 448.5h-4"/>
<path d="M942.1 474.3h-4"/>
<path d="M942.1 499.5h-4"/>
<path d="M942.1 525.4h-4"/>
<path d="M942.1 550.65h-4"/>
</g>
<rect x="942.1" y="343.9" width="330.9" height="230.1" fill="none" stroke="#333" stroke-width="1.3"/>
<g font-size="12.3" fill="#000">
<g text-anchor="middle">
<text x="958.8" y="591.6" textLength="22.33">600</text>
<text x="998.64" y="591.6" textLength="22.33">700</text>
<text x="1038.48" y="591.6" textLength="22.33">800</text>
<text x="1078.32" y="591.6" textLength="22.33">900</text>
<text x="1118.16" y="591.6" textLength="29.78">1000</text>
<text x="1158" y="591.6" textLength="29.78">1100</text>
<text x="1197.84" y="591.6" textLength="29.78">1200</text>
<text x="1237.68" y="591.6" textLength="29.78">1300</text>
<text x="1107.55" y="607.1" textLength="21.21" lengthAdjust="spacingAndGlyphs">FPS</text>
</g>
<g text-anchor="end">
<text x="933.5" y="350.6" textLength="33.49">0.375</text>
<text x="933.5" y="376" textLength="33.49">0.350</text>
<text x="933.5" y="401.9" textLength="33.49">0.325</text>
<text x="933.5" y="427.3" textLength="33.49">0.300</text>
<text x="933.5" y="452.9" textLength="33.49">0.275</text>
<text x="933.5" y="478.7" textLength="33.49">0.250</text>
<text x="933.5" y="503.9" textLength="33.49">0.225</text>
<text x="933.5" y="529.8" textLength="33.49">0.200</text>
<text x="933.5" y="555.05" textLength="33.49">0.175</text>
</g>
<g transform="translate(892.6 458.35) rotate(-90)">
<text x="-20.65" y="0" textLength="31.51" lengthAdjust="spacingAndGlyphs">LPIPS</text>
<path transform="translate(10.85 0) scale(0.005713 -0.005713)" d="M903 -7H813L419 387L539 507L773 273V1493H943V273L1175 507L1295 387Z" fill="#000"/>
</g>
</g>
<g font-size="12.3" fill="#000">
<polygon points="473.6,59.6 457.4,62.5 459.9,66 455.6,69.4 459.2,74.2 463.6,71.4 466.3,74.2" fill="#a6a6a6" stroke="#000" stroke-width="1.25" stroke-linejoin="miter"/>
<polygon points="870.76,60.5 854.59,62.99 857.26,66.36 853.35,69.39 856.55,74.18 860.46,71.52 863.12,74.18" fill="#a6a6a6" stroke="#000" stroke-width="1.25" stroke-linejoin="miter"/>
<polygon points="473.6,347.15 457.43,350.35 460.09,353.55 456.54,356.4 460.27,361.19 463.65,358.53 466.49,361.9" fill="#a6a6a6" stroke="#000" stroke-width="1.25" stroke-linejoin="miter"/>
<polygon points="870.6,347.5 854.43,350.52 857.09,353.9 854.07,356.39 857.62,361.18 860.65,359.05 863.49,362.25" fill="#a6a6a6" stroke="#000" stroke-width="1.25" stroke-linejoin="miter"/>
<polygon points="1268.3,281.5 1261.88,266.43 1259.09,269.5 1254.35,265.59 1250.44,270.06 1254.62,273.96 1252.39,277.59" fill="#a6a6a6" stroke="#000" stroke-width="1.25" stroke-linejoin="miter"/>
<polygon points="1268.3,569.5 1262.72,553.76 1259.65,557.11 1256.58,553.76 1252.22,558.21 1255.46,561.57 1252.39,564.47" fill="#a6a6a6" stroke="#000" stroke-width="1.25" stroke-linejoin="miter"/>
<text x="426.6" y="83.9" textLength="36.41">Better</text>
<text x="428.2" y="371.7" textLength="36.41">Better</text>
<text x="823.6" y="83.9" textLength="36.41">Better</text>
<text x="825.2" y="371.7" textLength="36.41">Better</text>
<text x="1223.3" y="262" textLength="36.41">Better</text>
<text x="1226.7" y="549.8" textLength="36.41">Better</text>
</g>
<rect x="334.7" y="27.3" width="717.5" height="20.5" rx="2.5" fill="#a6a6a6"/>
<rect x="331.7" y="24.2" width="717.5" height="20.5" rx="2.5" fill="#fff" stroke="#cfcfcf" stroke-width="1"/>
<g font-size="12.3" fill="#000">
<g fill="#1f77b4" fill-opacity="1.0" stroke-opacity="1.0"><path d="M336.1 33.9h25.4" stroke="#1f77b4" stroke-width="2" fill="none"/><circle cx="348.8" cy="33.9" r="4.1"/></g>
<text x="370.2" y="37.8" textLength="86.09">BBSplat (Ours)</text>
<g fill="#ff7f0e" fill-opacity="0.5" stroke-opacity="0.5"><path d="M480.3 33.9h25.4" stroke="#ff7f0e" stroke-width="2" fill="none"/><circle cx="493" cy="33.9" r="4.1"/></g>
<text x="514.8" y="37.8" textLength="32.95" lengthAdjust="spacingAndGlyphs">3DGS</text>
<g fill="#2ca02c" fill-opacity="0.5" stroke-opacity="0.5"><path d="M570.7 33.9h25.4" stroke="#2ca02c" stroke-width="2" fill="none"/><circle cx="583.4" cy="33.9" r="4.1"/></g>
<text x="605.2" y="37.8" textLength="77.54">Mip-Splatting</text>
<g fill="#d62728" fill-opacity="0.5" stroke-opacity="0.5"><path d="M706.3 33.9h25.4" stroke="#d62728" stroke-width="2" fill="none"/><circle cx="719" cy="33.9" r="4.1"/></g>
<text x="740.8" y="37.8" textLength="73.7" lengthAdjust="spacingAndGlyphs">3DGS-MCMC</text>
<g fill="#9467bd" fill-opacity="0.5" stroke-opacity="0.5"><path d="M837.8 33.9h25.4" stroke="#9467bd" stroke-width="2" fill="none"/><circle cx="850.5" cy="33.9" r="4.1"/></g>
<text x="872.6" y="37.8" textLength="80.77">Mini-Splatting</text>
<g fill="#8c564b" fill-opacity="0.5" stroke-opacity="0.5"><path d="M976.8 33.9h25.4" stroke="#8c564b" stroke-width="2" fill="none"/><circle cx="989.5" cy="33.9" r="4.1"/></g>
<text x="1011.6" y="37.8" textLength="32.95" lengthAdjust="spacingAndGlyphs">2DGS</text>
</g>
<rect x="411.7" y="615.8" width="567.6" height="20.8" rx="2.5" fill="#a6a6a6"/>
<rect x="408.8" y="612.9" width="567.6" height="20.7" rx="2.5" fill="#fff" stroke="#cfcfcf" stroke-width="1"/>
<g font-size="12.3" fill="#000">
<text x="413.8" y="626.7" textLength="61.56">Primitives:</text>
<circle cx="511.3" cy="622.5" r="3.3" fill="#808080" fill-opacity="0.42"/>
<text x="533" y="626.7" textLength="22.56">20K</text>
<circle cx="590.9" cy="622.5" r="3.8" fill="#808080" fill-opacity="0.42"/>
<text x="612.6" y="626.7" textLength="22.56">40K</text>
<circle cx="670.6" cy="622.5" r="4.8" fill="#808080" fill-opacity="0.42"/>
<text x="692.3" y="626.7" textLength="22.56">80K</text>
<circle cx="750.6" cy="622.5" r="6.1" fill="#808080" fill-opacity="0.42"/>
<text x="772.5" y="626.7" textLength="30">160K</text>
<circle cx="838.1" cy="622.5" r="8.1" fill="#808080" fill-opacity="0.42"/>
<text x="860.2" y="626.7" textLength="30">300K</text>
<circle cx="925.3" cy="622.5" r="13.8" fill="#808080" fill-opacity="0.42"/>
<text x="947.4" y="626.7" textLength="24.19">Max</text>
</g>
</svg>
<div id="cap">
<div class="l">Figure 4.<i class="s"></i> <b>Tanks&amp;Temples metrics.</b><i class="s"></i> Top row:<i class="s"></i> We report quantitative metrics values depending on the number of primitives for each</div>
<div class="l">method.<i class="s"></i> BBSplat outperforms state-of-the-art for the lower number of primitives.<i class="s"></i> Bottom row:<i class="s"></i> We demonstrate that lower number of</div>
<div class="l">primitives (indicated by marker size) leads to rendering speed (frames per second - FPS) improvement.<i class="s"></i> BBSplat demonstrates a better</div>
<div class="l last">metrics/speed ratio for the NVS task (better results direction shown by the grey arrow).</div>
</div>
</body>
</html>
